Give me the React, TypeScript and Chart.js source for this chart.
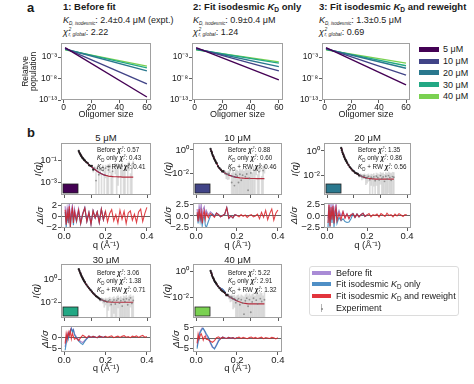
import React, { useEffect, useRef } from "react";
import { Chart, registerables } from "chart.js";

Chart.register(...registerables);

const FONT = "'Liberation Sans', Arial, Helvetica, sans-serif";

// ---------------- Panel a data ----------------
const CONC_LABELS = ["5 μM", "10 μM", "20 μM", "30 μM", "40 μM"];
const CONC_COLORS = ["#440154", "#414487", "#2a788e", "#22a884", "#7ad151"];
const OLIGO_SIZES = [1, 60];
const POP_START = [0.16, 0.11, 0.08, 0.063, 0.05];
const POP_END_BEFORE = [5e-13, 5.5e-10, 6.3e-7, 3.2e-6, 8e-6];
const POP_END_KD = [5e-9, 6.3e-7, 6.3e-6, 4e-5, 8e-5];
const POP_END_RW = [3.2e-10, 6.3e-8, 2.5e-6, 1e-5, 4e-5];
const POP_TICKS = [1e-13, 1e-8, 1e-3];
const OLIGO_TICKS = [0, 20, 40, 60];
const PANEL_A_TITLES = ["1: Before fit", "2: Fit isodesmic K_D only", "3: Fit isodesmic K_D and reweight"];
const KD_ISO = ["2.4±0.4 μM (expt.)", "0.9±0.4 μM", "1.3±0.5 μM"];
const CHI_GLOBAL = ["2.22", "1.24", "0.69"];

// ---------------- Panel b data ----------------
const Q = [0.005, 0.01, 0.015, 0.02, 0.025, 0.03, 0.035, 0.04, 0.045, 0.05,
  0.06, 0.07, 0.08, 0.09, 0.1, 0.11, 0.12, 0.13, 0.14, 0.15, 0.16, 0.17, 0.18, 0.19, 0.2,
  0.21, 0.22, 0.23, 0.24, 0.25, 0.26, 0.27, 0.28, 0.29, 0.3, 0.31, 0.32, 0.33, 0.34, 0.35,
  0.36, 0.37, 0.38, 0.39, 0.4];
const Q_TICKS = [0, 0.2, 0.4];

const I_FIT_5 = [0.794, 0.562, 0.417, 0.316, 0.251, 0.2, 0.166, 0.138, 0.117, 0.1,
  0.0759, 0.0562, 0.0417, 0.0316, 0.0251, 0.02, 0.0158, 0.0126, 0.01, 0.0083, 0.0071, 0.006, 0.0052, 0.0047, 0.0043,
  0.004, 0.0037, 0.0035, 0.0034, 0.0033, 0.0032, 0.0032, 0.0032, 0.0031, 0.0031, 0.0031, 0.003, 0.003, 0.003, 0.003,
  0.003, 0.003, 0.003, 0.003, 0.003];
const I_FIT_10 = [1.202, 0.794, 0.537, 0.38, 0.275, 0.2, 0.151, 0.115, 0.0891, 0.0708,
  0.0417, 0.0282, 0.0214, 0.0166, 0.0135, 0.0112, 0.0098, 0.0085, 0.0076, 0.0069, 0.0063, 0.0058, 0.0054, 0.005, 0.0048,
  0.0046, 0.0044, 0.0043, 0.0042, 0.0041, 0.004, 0.004, 0.004, 0.004, 0.0039, 0.0039, 0.0039, 0.0039, 0.0038, 0.0038,
  0.0038, 0.0038, 0.0038, 0.0038, 0.0038];
const I_FIT_20 = [1.738, 1.122, 0.759, 0.525, 0.38, 0.282, 0.214, 0.166, 0.132, 0.105,
  0.0692, 0.0479, 0.0347, 0.0263, 0.0209, 0.017, 0.0141, 0.012, 0.0105, 0.0093, 0.0083, 0.0076, 0.0069, 0.0065, 0.006,
  0.0058, 0.0055, 0.0054, 0.0052, 0.0051, 0.005, 0.005, 0.005, 0.005, 0.005, 0.005, 0.005, 0.005, 0.005, 0.005,
  0.005, 0.005, 0.005, 0.005, 0.005];
const I_FIT_30 = [8.91, 6.03, 4.17, 2.95, 2.14, 1.58, 1.2, 0.933, 0.724, 0.575,
  0.372, 0.251, 0.174, 0.12, 0.0871, 0.0631, 0.0468, 0.0355, 0.0282, 0.0229, 0.0191, 0.0166, 0.0145, 0.0132, 0.012,
  0.0112, 0.0107, 0.0105, 0.0102, 0.01, 0.01, 0.01, 0.01, 0.01, 0.01, 0.01, 0.01, 0.01, 0.01, 0.01,
  0.01, 0.01, 0.01, 0.01, 0.01];
const I_FIT_40 = [1.202, 0.794, 0.55, 0.398, 0.302, 0.234, 0.186, 0.151, 0.126, 0.105,
  0.0759, 0.0575, 0.0447, 0.0347, 0.0269, 0.0209, 0.0162, 0.0141, 0.012, 0.0105, 0.0091, 0.0079, 0.0069, 0.006, 0.0054,
  0.0048, 0.0044, 0.004, 0.0037, 0.0035, 0.0034, 0.0033, 0.0032, 0.0032, 0.0032, 0.0032, 0.0032, 0.0032, 0.0032, 0.0032,
  0.0032, 0.0032, 0.0032, 0.0032, 0.0032];

const SIGMA_5 = [0.01, 0.008, 0.006, 0.005, 0.004, 0.0035, 0.003, 0.003, 0.003, 0.003,
  0.003, 0.003, 0.0035, 0.004, 0.005, 0.006, 0.007, 0.008, 0.009, 0.011, 0.012, 0.014, 0.015, 0.016, 0.018,
  0.019, 0.02, 0.021, 0.022, 0.023, 0.024, 0.025, 0.025, 0.026, 0.027, 0.028, 0.028, 0.029, 0.03, 0.03,
  0.031, 0.032, 0.032, 0.033, 0.034];
const SIGMA_10 = [0.012, 0.009, 0.007, 0.005, 0.004, 0.0035, 0.003, 0.003, 0.003, 0.003,
  0.003, 0.003, 0.003, 0.0035, 0.004, 0.0045, 0.005, 0.006, 0.007, 0.008, 0.009, 0.01, 0.011, 0.012, 0.013,
  0.014, 0.015, 0.015, 0.016, 0.017, 0.017, 0.018, 0.018, 0.019, 0.019, 0.02, 0.02, 0.021, 0.021, 0.022,
  0.022, 0.023, 0.023, 0.024, 0.024];
const SIGMA_20 = [0.015, 0.01, 0.007, 0.005, 0.004, 0.003, 0.0025, 0.002, 0.002, 0.002,
  0.0018, 0.0016, 0.0015, 0.0015, 0.0016, 0.0018, 0.002, 0.0023, 0.0026, 0.003, 0.0033, 0.0036, 0.004, 0.0043, 0.0046,
  0.005, 0.0053, 0.0056, 0.006, 0.0063, 0.0066, 0.007, 0.0072, 0.0075, 0.0078, 0.008, 0.0083, 0.0086, 0.0088, 0.009,
  0.0093, 0.0096, 0.0098, 0.01, 0.0102];
const SIGMA_30 = [0.05, 0.03, 0.02, 0.015, 0.012, 0.01, 0.008, 0.007, 0.006, 0.005,
  0.004, 0.0035, 0.003, 0.003, 0.003, 0.003, 0.0032, 0.0035, 0.004, 0.0045, 0.005, 0.006, 0.007, 0.008, 0.009,
  0.01, 0.011, 0.012, 0.013, 0.014, 0.015, 0.015, 0.016, 0.017, 0.017, 0.018, 0.018, 0.019, 0.019, 0.02,
  0.02, 0.021, 0.021, 0.022, 0.022];
const SIGMA_40 = [0.015, 0.01, 0.007, 0.005, 0.004, 0.0035, 0.003, 0.003, 0.003, 0.003,
  0.003, 0.003, 0.003, 0.003, 0.003, 0.0032, 0.0035, 0.004, 0.0045, 0.005, 0.0055, 0.006, 0.0065, 0.007, 0.0075,
  0.008, 0.0085, 0.009, 0.0095, 0.01, 0.0105, 0.011, 0.0115, 0.012, 0.0125, 0.013, 0.0135, 0.014, 0.0145, 0.015,
  0.0155, 0.016, 0.016, 0.0165, 0.017];

// residuals (ΔI/σ) : reweighted fit, full q range
const RES_RW_5 = [1.2, -1.5, 0.8, -0.6, 1.8, -1.9, 0.5, 1.4, -1.2, 0.9,
  -0.8, 1.1, -1.3, 0.4, 1.5, -0.9, 0.7, -1.4, 1.0, -0.3, 0.8, -1.1, 1.3, -0.6, 0.9,
  -1.0, 0.5, 1.2, -0.8, 0.3, -1.2, 1.1, -0.5, 0.9, -1.3, 0.6, 1.0, -0.7, 0.4, -1.1,
  0.8, 1.3, -0.9, 0.5, 1.6];
const RES_RW_10 = [0.8, -1.2, 1.5, -0.5, 0.9, -1.6, 0.4, 1.1, -0.7, 0.6,
  -0.4, 0.5, 0.2, -0.3, 0.6, 0.3, -0.2, 0.1, 0.4, 1.8, -0.5, 0.0, -0.4, 0.3, 0.1,
  -0.2, 0.3, -0.1, 0.2, -0.3, 0.1, 0.3, -0.2, 0.0, 0.4, -0.6, 0.8, -0.3, 1.2, -0.8,
  0.5, 1.5, -0.9, 0.6, 1.3];
const RES_RW_20 = [-1.5, 2.4, -2.2, 1.9, -0.8, 2.2, -1.6, 0.9, 1.8, -1.0,
  0.6, -0.8, 0.9, -0.5, 0.4, -0.6, 0.3, 0.5, -0.3, 0.4, -0.2, 0.3, 0.6, -0.1, 0.2,
  0.5, -0.2, 0.3, 0.1, 0.4, -0.2, 0.5, 0.2, -0.1, 0.6, 0.1, 0.3, -0.2, 0.4, 0.0,
  0.5, 0.2, -0.1, 0.3, 0.2];
const RES_RW_30 = [-3.0, 1.5, -1.2, 2.2, 0.5, 2.8, -0.8, 1.6, 0.3, -1.0,
  -0.5, -1.6, -0.3, 0.8, 0.2, -0.4, 0.5, -0.2, 0.3, 0.0, -0.3, 0.4, 0.1, -0.2, 0.3,
  -0.1, 0.2, 0.5, -0.3, 0.1, 0.4, -0.2, 0.3, 0.6, -0.1, 0.2, -0.3, 0.4, 0.1, 0.5,
  -0.2, 0.3, 0.7, -0.1, 0.2];
const RES_RW_40 = [-2.5, 1.8, -0.5, 1.2, 2.0, 0.8, -1.0, 0.5, 1.0, -0.6,
  -0.8, -1.5, -2.0, -1.2, 0.2, 0.6, -0.3, 0.4, 0.0, -0.2, 0.3, -0.1, 0.2, -0.3, 0.1,
  0.4, -0.2, 0.3, 0.0, -0.3, 0.2, 0.5, -0.1, 0.3, -0.2, 0.1, 0.4, -0.3, 0.2, 0.0,
  -0.2, 0.3, 0.1, -0.4, 0.2];

// residuals for K_D-only fit and before fit (q ≤ 0.2; identical to RW beyond)
const RES_KD_5 = [0.8, -2.0, 0.3, -1.2, 1.3, -2.0, 0.0, 1.0, -1.6, 0.6, -1.0, 0.9, -1.4, 0.3, 1.5, -0.9, 0.7, -1.4, 1.0, -0.3, 0.8, -1.1, 1.3, -0.6, 0.9];
const RES_BEFORE_5 = [1.8, -1.0, 1.5, 0.2, 2.3, -1.2, 1.2, 2.0, -0.6, 1.4, -0.3, 1.4, -1.0, 0.6, 1.6, -0.9, 0.7, -1.4, 1.0, -0.3, 0.8, -1.1, 1.3, -0.6, 0.9];
const RES_KD_10 = [0.5, -1.6, 1.0, -1.2, 0.2, -2.2, -0.5, 0.2, -2.0, -2.5, -1.2, 0.0, 0.4, -0.1, 0.6, 0.3, -0.2, 0.1, 0.4, 1.8, -0.5, 0.0, -0.4, 0.3, 0.1];
const RES_BEFORE_10 = [1.5, -0.5, 2.2, 0.8, 2.6, -0.4, 1.5, 2.0, 0.3, 1.2, 0.2, 0.9, 0.5, 0.0, 0.7, 0.3, -0.2, 0.1, 0.4, 1.8, -0.5, 0.0, -0.4, 0.3, 0.1];
const RES_KD_20 = [-2.4, 2.0, -2.5, 1.2, -1.5, 1.8, -2.4, 0.2, 1.2, -1.6, -0.3, -1.0, -0.6, -1.2, -1.4, -1.3, -0.6, 0.5, -0.3, 0.4, -0.2, 0.3, 0.6, -0.1, 0.2];
const RES_BEFORE_20 = [-0.5, 2.7, -1.2, 2.6, 0.2, 2.7, -0.6, 1.8, 2.5, 0.0, 1.2, 0.0, 1.0, -0.4, 0.5, -0.6, 0.3, 0.5, -0.3, 0.4, -0.2, 0.3, 0.6, -0.1, 0.2];
const RES_KD_30 = [-6.0, -3.0, 0.5, -1.0, 1.5, 2.5, 3.8, 2.2, 3.2, 1.0, -0.5, -1.8, -2.8, -3.4, -2.0, -0.8, 0.3, -0.2, 0.3, 0.0, -0.3, 0.4, 0.1, -0.2, 0.3];
const RES_BEFORE_30 = [-4.5, -1.5, 1.5, 0.2, 2.5, 3.0, 4.2, 2.8, 3.5, 1.5, 0.0, -1.2, -2.0, -2.5, -1.5, -0.5, 0.5, -0.2, 0.3, 0.0, -0.3, 0.4, 0.1, -0.2, 0.3];
const RES_KD_40 = [-5.0, -2.0, 1.0, 2.5, 3.5, 4.2, 4.6, 3.8, 3.0, 2.0, 0.5, -2.0, -4.0, -5.2, -3.5, -1.5, -0.3, 0.4, 0.0, -0.2, 0.3, -0.1, 0.2, -0.3, 0.1];
const RES_BEFORE_40 = [-4.0, -1.0, 2.0, 3.2, 4.0, 4.8, 4.4, 3.5, 2.5, 1.2, 0.0, -2.5, -4.5, -4.8, -3.0, -1.0, -0.1, 0.4, 0.0, -0.2, 0.3, -0.1, 0.2, -0.3, 0.1];

const CHI_BEFORE = ["0.57", "0.88", "1.35", "3.06", "5.22"];
const CHI_KD = ["0.43", "0.60", "0.86", "1.38", "2.91"];
const CHI_RW = ["0.41", "0.46", "0.56", "0.71", "1.32"];

const TOP_YMIN = [6.3e-5, 1.6e-4, 2.5e-4, 4e-4, 2.5e-4];
const TOP_YMAX = [4.5, 3.8, 4.4, 25, 4.0];
const TOP_TICKS = [[1e-3, 1e-1], [1e-2, 1], [1e-2, 1], [1e-2, 1], [1e-2, 1]];
const RES_YMIN = [-2.1, -2.6, -2.6, -6.8, -6.6];
const RES_YMAX = [2.4, 2.8, 2.8, 5.0, 5.7];
const RES_TICKS = [[-2, 0, 2], [-2.5, 0, 2.5], [-2.5, 0, 2.5], [-5, 0], [-5, 0, 5]];
const RES_DECIMALS = [0, 1, 1, 0, 0];

const FIT_NAMES = ["Before fit", "Fit isodesmic K_D only", "Fit isodesmic K_D and reweight"];
const EXP_NAME = "Experiment";

const I_FITS = [I_FIT_5, I_FIT_10, I_FIT_20, I_FIT_30, I_FIT_40];
const SIGMAS = [SIGMA_5, SIGMA_10, SIGMA_20, SIGMA_30, SIGMA_40];
const RES_RWS = [RES_RW_5, RES_RW_10, RES_RW_20, RES_RW_30, RES_RW_40];
const RES_KDS = [RES_KD_5, RES_KD_10, RES_KD_20, RES_KD_30, RES_KD_40];
const RES_BEFORES = [RES_BEFORE_5, RES_BEFORE_10, RES_BEFORE_20, RES_BEFORE_30, RES_BEFORE_40];

// ---------------- styling / layout ----------------
const C_BEFORE = "rgba(148,103,189,0.8)";
const C_KD = "rgba(31,119,180,0.8)";
const C_RW = "rgba(218,32,38,0.85)";
const C_RW_TOP = "rgba(175,25,45,0.9)";
const LEG_COLORS = ["#a98bd6", "#4f8fc6", "#e2343c"];
const FRAME = "#a0a0a0";
const TICK = "#333";
const TXT = "#1a1a1a";

const A_AREAS = [
  { l: 61, r: 151, w: 39 },
  { l: 192, r: 283, w: 30 },
  { l: 322, r: 410, w: 30 },
];
const A_TOP = 43, A_BOTTOM = 100;

const COL_L = [61, 193, 324];
const COL_R = [151, 282, 411];
const ROW_TOP_T = [143, 264];
const ROW_TOP_B = [195, 318];
const ROW_RES_T = [203, 326];
const ROW_RES_B = [228, 352];
const RES_HX = [23, 22];
const TOP_W = [28, 30, 34, 30, 31];
const RES_W = [26, 30, 35, 21, 22];

const SUP: Record<string, string> = { "-": "⁻", "0": "⁰", "1": "¹", "2": "²", "3": "³", "4": "⁴", "5": "⁵", "6": "⁶", "7": "⁷", "8": "⁸", "9": "⁹" };
const pow10Label = (v: number) => "10" + String(Math.round(Math.log10(v))).split("").map((c) => SUP[c]).join("");
const signed = (v: number, d: number) => (v < 0 ? "−" : "") + Math.abs(v).toFixed(d);

const framePlugin = {
  id: "frame",
  afterDraw(chart: any, _a: any, opts: any) {
    const { ctx, chartArea: a } = chart;
    ctx.save();
    if (opts && opts.swatch) {
      ctx.fillStyle = opts.swatch;
      ctx.fillRect(a.left + 2, a.bottom - 11, 15, 9);
      ctx.strokeStyle = "#222";
      ctx.lineWidth = 0.8;
      ctx.strokeRect(a.left + 2, a.bottom - 11, 15, 9);
    }
    ctx.strokeStyle = FRAME;
    ctx.lineWidth = 1;
    ctx.strokeRect(a.left + 0.5, a.top + 0.5, a.right - a.left - 1, a.bottom - a.top - 1);
    ctx.restore();
  },
};

function axisX(o: any) {
  return {
    type: "linear",
    min: o.min,
    max: o.max,
    afterBuildTicks: (s: any) => { s.ticks = o.ticks.map((v: number) => ({ value: v })); },
    afterFit: (s: any) => { s.height = o.height; s.paddingLeft = 0; s.paddingRight = 0; },
    border: { display: false },
    grid: { display: true, drawOnChartArea: false, drawTicks: true, tickLength: 3, tickWidth: 0.8, tickColor: TICK, color: TICK },
    ticks: { display: o.labels, autoSkip: false, maxRotation: 0, minRotation: 0, padding: 0, color: TXT, font: { family: FONT, size: o.size }, callback: o.fmt },
    title: o.title
      ? { display: true, text: o.title, color: TXT, font: { family: FONT, size: o.titleSize }, padding: { top: 0, bottom: 0 } }
      : { display: false },
  };
}

function axisY(o: any) {
  return {
    type: o.type,
    min: o.min,
    max: o.max,
    afterBuildTicks: (s: any) => { s.ticks = o.ticks.map((v: number) => ({ value: v })); },
    afterFit: (s: any) => { s.width = o.width; s.paddingTop = 0; s.paddingBottom = 0; },
    border: { display: false },
    grid: {
      display: true,
      drawOnChartArea: !!o.zeroLine,
      drawTicks: true,
      tickLength: 3,
      tickWidth: 0.8,
      tickColor: TICK,
      lineWidth: 0.9,
      color: o.zeroLine ? (c: any) => (c.tick && c.tick.value === 0 ? "#555" : "rgba(0,0,0,0)") : TICK,
    },
    ticks: { autoSkip: false, padding: 1, color: TXT, font: { family: FONT, size: o.size }, callback: o.fmt },
    title: o.title
      ? { display: true, text: o.title, color: TXT, font: { family: FONT, size: o.titleSize, style: o.italic ? "italic" : "normal", lineHeight: o.titleLH || 1.2 }, padding: { top: o.titlePad || 0, bottom: 0 } }
      : { display: false },
  };
}

function baseOptions(padding: any, scales: any, frame: any = {}) {
  return {
    animation: false,
    responsive: false,
    devicePixelRatio: 1,
    events: [],
    layout: { padding },
    plugins: { legend: { display: false }, tooltip: { enabled: false }, frame },
    scales,
  };
}

function panelAConfig(idx: number) {
  const ends = [POP_END_BEFORE, POP_END_KD, POP_END_RW][idx];
  const area = A_AREAS[idx];
  return {
    type: "line",
    data: {
      datasets: CONC_LABELS.map((label, k) => ({
        label,
        data: [{ x: OLIGO_SIZES[0], y: POP_START[k] }, { x: OLIGO_SIZES[1], y: ends[k] }],
        borderColor: CONC_COLORS[k],
        borderWidth: 1.4,
        pointRadius: 0,
        fill: false,
        tension: 0,
      })),
    },
    options: baseOptions({ left: 0, top: 5, right: 8, bottom: 0 }, {
      x: axisX({ min: -1.95, max: 62.95, ticks: OLIGO_TICKS, labels: true, height: 20, size: 8.5, fmt: (v: number) => String(v), title: "Oligomer size", titleSize: 9 }),
      y: axisY({
        type: "logarithmic", min: 1e-13, max: 2, ticks: POP_TICKS, width: area.w, size: 8.5, fmt: pow10Label,
        title: idx === 0 ? ["Relative", "population"] : null, titleSize: 8.5, titleLH: 0.95, titlePad: 0,
      }),
    }),
    plugins: [framePlugin],
  };
}

function topConfig(k: number) {
  const fit = I_FITS[k], sig = SIGMAS[k], rw = RES_RWS[k], kd = RES_KDS[k], bf = RES_BEFORES[k];
  const yMin = TOP_YMIN[k];
  const exp = Q.map((_, i) => fit[i] + rw[i] * sig[i]);
  const bars: any[] = [];
  const pts: any[] = [];
  Q.forEach((q, i) => {
    const hi = exp[i] + sig[i];
    const lo = exp[i] - sig[i];
    if (hi > yMin) bars.push({ x: q, y: [Math.max(lo, yMin), hi] });
    if (exp[i] > yMin) pts.push({ x: q, y: exp[i], noisy: sig[i] > 0.3 * fit[i] });
  });
  const curve = (res: number[]) => res.map((r, i) => ({ x: Q[i], y: exp[i] - r * sig[i] }));
  const line = (data: any[], color: string, order: number, w = 1.1) => ({ type: "line", data, borderColor: color, borderWidth: w, pointRadius: 0, fill: false, tension: 0, order });
  return {
    type: "line",
    data: {
      datasets: [
        { type: "bar", data: bars, backgroundColor: "rgba(185,185,185,0.5)", borderWidth: 0, barThickness: 1, order: 5 },
        line(curve(bf), C_BEFORE, 4),
        line(curve(kd), C_KD, 3),
        line(Q.map((q, i) => ({ x: q, y: fit[i] })), C_RW_TOP, 2, 1.2),
        {
          type: "line", data: pts, showLine: false, pointBorderWidth: 0, order: 1,
          pointRadius: (c: any) => (c.raw && c.raw.noisy ? 0.9 : 1.15),
          pointBackgroundColor: (c: any) => (c.raw && c.raw.noisy ? "rgba(120,120,120,0.75)" : "rgba(25,25,25,0.9)"),
        },
      ],
    },
    options: baseOptions({ left: 0, top: 4, right: 4, bottom: 0 }, {
      x: axisX({ min: -0.015, max: 0.42, ticks: Q_TICKS, labels: false, height: 4, size: 9.5 }),
      y: axisY({ type: "logarithmic", min: TOP_YMIN[k], max: TOP_YMAX[k], ticks: TOP_TICKS[k], width: TOP_W[k], size: 9.5, fmt: pow10Label, title: "I(q)", titleSize: 9.5, italic: true }),
    }, { swatch: CONC_COLORS[k] }),
    plugins: [framePlugin],
  };
}

function resConfig(k: number) {
  const row = k < 3 ? 0 : 1;
  const line = (res: number[], color: string, order: number) => ({
    type: "line",
    data: res.map((r, i) => ({ x: Q[i], y: r })),
    borderColor: color, borderWidth: 1.1, pointRadius: 0, fill: false, tension: 0, order,
  });
  return {
    type: "line",
    data: { datasets: [line(RES_BEFORES[k], C_BEFORE, 3), line(RES_KDS[k], C_KD, 2), line(RES_RWS[k], C_RW, 1)] },
    options: baseOptions({ left: 0, top: 3, right: 10, bottom: 0 }, {
      x: axisX({ min: -0.015, max: 0.42, ticks: Q_TICKS, labels: true, height: RES_HX[row], size: 9.5, fmt: (v: number) => v.toFixed(1), title: "q (Å⁻¹)", titleSize: 9.5 }),
      y: axisY({ type: "linear", min: RES_YMIN[k], max: RES_YMAX[k], ticks: RES_TICKS[k], width: RES_W[k], size: 9.5, fmt: (v: number) => signed(v, RES_DECIMALS[k]), title: "ΔI/σ", titleSize: 9.5, italic: true, zeroLine: true }),
    }),
    plugins: [framePlugin],
  };
}

function ChartCanvas({ left, top, width, height, build }: any) {
  const ref = useRef<HTMLCanvasElement>(null);
  useEffect(() => {
    const chart = new Chart(ref.current as HTMLCanvasElement, build() as any);
    return () => chart.destroy();
  }, []);
  return <canvas ref={ref} width={width} height={height} style={{ position: "absolute", left, top, width, height }} />;
}

function withKD(text: string, subSize = "0.7em") {
  const parts = text.split("K_D");
  return parts.map((p, i) => (
    <React.Fragment key={i}>
      {p}
      {i < parts.length - 1 && (
        <>
          <i>K</i>
          <span style={{ fontSize: subSize, position: "relative", top: "0.35em" }}>D</span>
        </>
      )}
    </React.Fragment>
  ));
}

function Chi({ sub, bold }: { sub: string; bold?: boolean }) {
  return (
    <span style={{ whiteSpace: "nowrap" }}>
      <span style={{ fontStyle: "italic", fontWeight: bold ? 700 : 400 }}>χ</span>
      <span style={{ display: "inline-flex", flexDirection: "column", verticalAlign: "middle", fontSize: "0.55em", lineHeight: 0.95, fontStyle: "italic", marginLeft: 0.5 }}>
        <span>2</span>
        <span>{sub}</span>
      </span>
    </span>
  );
}

const abs = (left: number, top: number, extra: any = {}) => ({ position: "absolute" as const, left, top, whiteSpace: "nowrap" as const, ...extra });

export default function App() {
  const titleLefts = [63, 193, 319];
  return (
    <div style={{ position: "fixed", left: 0, top: 0, width: 474, height: 384, background: "#fff", fontFamily: FONT, color: TXT, overflow: "hidden" }}>
      {/* panel letters */}
      <div style={abs(27, 0, { fontSize: 13, fontWeight: 700, lineHeight: "16px" })}>a</div>
      <div style={abs(27, 125, { fontSize: 13, fontWeight: 700, lineHeight: "16px" })}>b</div>

      {/* panel a titles */}
      {PANEL_A_TITLES.map((t, i) => (
        <React.Fragment key={"ta" + i}>
          <div style={abs(titleLefts[i], 1, { fontSize: 9.5, fontWeight: 700, lineHeight: "12px" })}>{withKD(t)}</div>
          <div style={abs(titleLefts[i], 14, { fontSize: 9, lineHeight: "12px" })}>
            <i>K</i>
            <span style={{ fontSize: 4.6, fontStyle: "italic", position: "relative", top: 2 }}>D, isodesmic</span>: {KD_ISO[i]}
          </div>
          <div style={abs(titleLefts[i], 26, { fontSize: 9, lineHeight: "12px" })}>
            <Chi sub="r, global" />: {CHI_GLOBAL[i]}
          </div>
        </React.Fragment>
      ))}

      {/* panel a charts */}
      {A_AREAS.map((a, i) => {
        const left = a.l - a.w;
        return (
          <ChartCanvas key={"a" + i} left={left} top={A_TOP - 5} width={a.r + 8 - left} height={5 + (A_BOTTOM - A_TOP) + 20} build={() => panelAConfig(i)} />
        );
      })}

      {/* panel a legend */}
      {CONC_LABELS.map((lab, k) => {
        const cy = [49, 61, 72.5, 84.5, 96][k];
        return (
          <React.Fragment key={"la" + k}>
            <div style={{ position: "absolute", left: 419, top: cy - 2.5, width: 20, height: 5, background: CONC_COLORS[k] }} />
            <div style={abs(443, cy - 6, { fontSize: 9, lineHeight: "12px" })}>{lab}</div>
          </React.Fragment>
        );
      })}

      {/* panel b charts */}
      {CONC_LABELS.map((lab, k) => {
        const row = k < 3 ? 0 : 1;
        const col = k < 3 ? k : k - 3;
        const l = COL_L[col], r = COL_R[col];
        const tT = ROW_TOP_T[row], tB = ROW_TOP_B[row];
        const rT = ROW_RES_T[row], rB = ROW_RES_B[row];
        const topLeft = l - TOP_W[k];
        const resLeft = l - RES_W[k];
        const textX = [97, 228, 358][col];
        const textY = row === 0 ? 146 : 269;
        return (
          <React.Fragment key={"b" + k}>
            <div style={abs(l, (row === 0 ? 138 : 260) - 6, { width: r - l, textAlign: "center", fontSize: 9.5, lineHeight: "12px" })}>{lab}</div>
            <ChartCanvas left={topLeft} top={tT - 4} width={r + 4 - topLeft} height={tB - tT + 8} build={() => topConfig(k)} />
            <ChartCanvas left={resLeft} top={rT - 3} width={r + 10 - resLeft} height={3 + (rB - rT) + RES_HX[row]} build={() => resConfig(k)} />
            <div style={abs(textX, textY, { fontSize: 6.3, lineHeight: "8px" })}>
              <div>Before <Chi sub="r" bold />: {CHI_BEFORE[k]}</div>
              <div>{withKD("K_D only ")}<Chi sub="r" bold />: {CHI_KD[k]}</div>
              <div>{withKD("K_D + RW ")}<Chi sub="r" bold />: {CHI_RW[k]}</div>
            </div>
          </React.Fragment>
        );
      })}

      {/* panel b legend */}
      <div style={{ position: "absolute", left: 309, top: 266, width: 150, height: 50, border: "1px solid #dcdcdc", borderRadius: 3, boxSizing: "border-box" }}>
        {FIT_NAMES.map((n, i) => {
          const cy = [6, 17, 29][i];
          return (
            <React.Fragment key={"lb" + i}>
              <div style={{ position: "absolute", left: 2, top: cy - 2, width: 19, height: 4, background: LEG_COLORS[i] }} />
              <div style={abs(26, cy - 6, { fontSize: 9, lineHeight: "12px" })}>{withKD(n)}</div>
            </React.Fragment>
          );
        })}
        <div style={{ position: "absolute", left: 11, top: 37, width: 1, height: 8, background: "#b5b5b5" }} />
        <div style={{ position: "absolute", left: 10.5, top: 40.5, width: 2, height: 2, borderRadius: 1, background: "#888" }} />
        <div style={abs(26, 35, { fontSize: 9, lineHeight: "12px" })}>{EXP_NAME}</div>
      </div>
    </div>
  );
}
